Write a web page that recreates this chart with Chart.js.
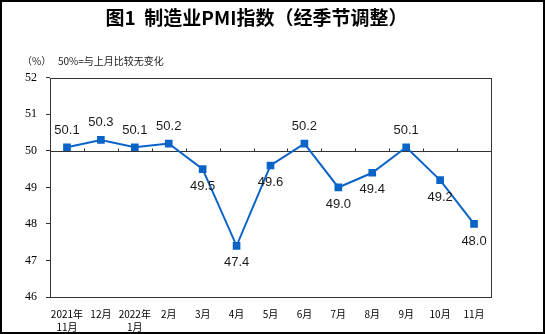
<!DOCTYPE html>
<html>
<head>
<meta charset="utf-8">
<script src="https://cdn.jsdelivr.net/npm/chart.js@4.4.0/dist/chart.umd.min.js"></script>
<style>
  html, body { margin: 0; padding: 0; background: #fff; }
  #wrap { width: 545px; height: 334px; }
</style>
</head>
<body>
<div id="wrap"><canvas id="pmiChart" width="545" height="334"></canvas></div>
<script>
// ---------------- DATA ----------------
const months = [['2021年', '11月'], '12月', ['2022年', '1月'], '2月', '3月', '4月', '5月', '6月', '7月', '8月', '9月', '10月', '11月'];
const pmiValues = [50.1, 50.3, 50.1, 50.2, 49.5, 47.4, 49.6, 50.2, 49.0, 49.4, 50.1, 49.2, 48.0];
const labelAbove = [true, true, true, true, false, false, false, true, false, false, true, false, false];
const yTicks = [46, 47, 48, 49, 50, 51, 52];

const lineColor = '#0a64c8';

// frame, plot box, the 50% line and its little ticks
const framePlugin = {
  id: 'frame',
  beforeDraw(chart) {
    const ctx = chart.ctx;
    ctx.save();
    ctx.fillStyle = '#fff';
    ctx.fillRect(0, 0, chart.width, chart.height);
    ctx.restore();
  },
  beforeDatasetsDraw(chart) {
    const ctx = chart.ctx;
    const a = chart.chartArea;
    const x = chart.scales.x;
    const y = chart.scales.y;
    ctx.save();
    ctx.strokeStyle = '#333';
    ctx.lineWidth = 1;
    ctx.strokeRect(Math.round(a.left) + 0.5, Math.round(a.top) + 0.5, Math.round(a.right - a.left), Math.round(a.bottom - a.top));

    const y50 = Math.round(y.getPixelForValue(50)) + 0.5;
    ctx.beginPath();
    ctx.moveTo(a.left, y50);
    ctx.lineTo(a.right, y50);
    for (let i = 0; i <= months.length; i++) {
      const bx = Math.round(x.getPixelForValue(i - 0.5)) + 0.5;
      ctx.moveTo(bx, y50);
      ctx.lineTo(bx, y50 - 3);
    }
    ctx.stroke();
    ctx.restore();
  },
  afterDraw(chart) {
    const ctx = chart.ctx;
    // value labels
    const meta = chart.getDatasetMeta(0);
    ctx.save();
    ctx.font = '13px "Liberation Sans", Arial, sans-serif';
    ctx.fillStyle = '#1a1a1a';
    ctx.textAlign = 'center';
    ctx.textBaseline = 'middle';
    meta.data.forEach((pt, i) => {
      const dy = labelAbove[i] ? -17 : 17;
      ctx.fillText(pmiValues[i].toFixed(1), pt.x, pt.y + dy);
    });
    // outer frame
    ctx.strokeStyle = '#000';
    ctx.lineWidth = 2;
    ctx.strokeRect(1, 1, chart.width - 2, chart.height - 2);
    ctx.restore();
  }
};

new Chart(document.getElementById('pmiChart'), {
  type: 'line',
  data: {
    labels: months,
    datasets: [{
      data: pmiValues,
      borderColor: lineColor,
      backgroundColor: lineColor,
      borderWidth: 2,
      pointStyle: 'rect',
      pointRadius: 4,
      pointHoverRadius: 4,
      tension: 0
    }]
  },
  options: {
    responsive: false,
    animation: false,
    layout: { padding: { left: 22, right: 54, top: 2, bottom: 0 } },
    plugins: {
      legend: { display: false },
      tooltip: { enabled: false },
      title: {
        display: true,
        text: '图1  制造业PMI指数（经季节调整）',
        color: '#000',
        font: { family: '"Noto Sans CJK SC", sans-serif', size: 19, weight: 'bold', lineHeight: 1.2 },
        padding: { top: 4, bottom: 24 }
      },
      subtitle: {
        display: true,
        align: 'start',
        text: '（%）   50%=与上月比较无变化',
        color: '#222',
        font: { family: '"Noto Sans CJK SC", sans-serif', size: 10, lineHeight: 1.2 },
        padding: { top: 2, bottom: 11 }
      }
    },
    scales: {
      x: {
        offset: true,
        afterFit(scale) { scale.height = 37; },
        grid: { display: false, drawTicks: false },
        border: { display: false },
        ticks: {
          color: '#000',
          padding: 10,
          maxRotation: 0,
          autoSkip: false,
          font: { family: '"Noto Sans CJK SC", sans-serif', size: 10, lineHeight: 1.35 }
        }
      },
      y: {
        min: 46,
        max: 52,
        afterFit(scale) { scale.width = 28; },
        afterBuildTicks(scale) { scale.ticks = yTicks.map(v => ({ value: v })); },
        grid: { drawOnChartArea: false, tickLength: 4, color: '#333' },
        border: { display: false },
        ticks: {
          color: '#000',
          padding: 9,
          font: { family: '"Liberation Serif", serif', size: 12 }
        }
      }
    }
  },
  plugins: [framePlugin]
});
</script>
</body>
</html>
